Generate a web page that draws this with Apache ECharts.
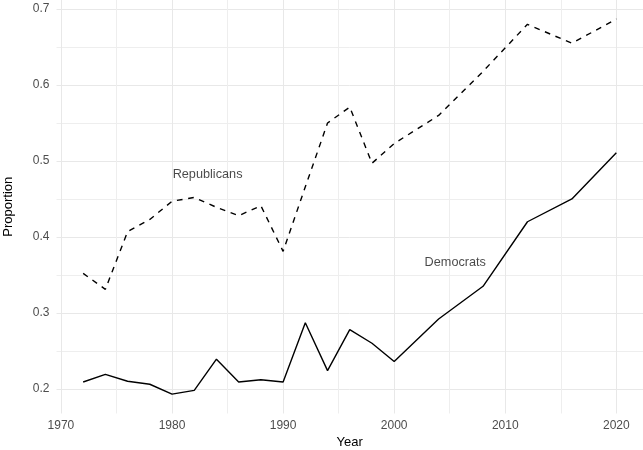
<!DOCTYPE html>
<html>
<head>
<meta charset="utf-8">
<script src="https://cdn.jsdelivr.net/npm/echarts@6/dist/echarts.min.js"></script>
<style>html,body{margin:0;padding:0;background:#fff}#c{width:643px;height:450px}</style>
</head>
<body>
<div id="c"></div>
<script>
const years = [1972,1974,1976,1978,1980,1982,1984,1986,1988,1990,1992,1994,1996,1998,2000,2004,2008,2012,2016,2020];
const democrats = [0.209,0.219,0.210,0.206,0.193,0.198,0.239,0.209,0.212,0.209,0.287,0.224,0.278,0.260,0.236,0.292,0.335,0.420,0.450,0.511];
const republicans = [0.352,0.331,0.407,0.423,0.447,0.452,0.439,0.428,0.441,0.381,0.466,0.550,0.571,0.497,0.523,0.560,0.618,0.680,0.655,0.687];
const xMajorTicks = [1970,1980,1990,2000,2010,2020];
const xMinorTicks = [1975,1985,1995,2005,2015];
const yMajorTicks = [0.2,0.3,0.4,0.5,0.6,0.7];
const yMinorTicks = [0.25,0.35,0.45,0.55,0.65];
const labelNames = ['Republicans','Democrats'];
const labelX = [1983.2,2005.5];
const labelY = [0.482,0.367];

const font = 'Liberation Sans, Arial, Helvetica, sans-serif';
const X_MIN = 1969.6, X_MAX = 2022.4, Y_MIN = 0.1675, Y_MAX = 0.712;

function baseX(extra){
  return Object.assign({type:'value', min:X_MIN, max:X_MAX, axisLine:{show:false}}, extra);
}
function baseY(extra){
  return Object.assign({type:'value', min:Y_MIN, max:Y_MAX, axisLine:{show:false}}, extra);
}

const chart = echarts.init(document.getElementById('c'), null, {renderer:'canvas'});
chart.setOption({
  animation:false,
  backgroundColor:'#ffffff',
  grid:{left:56.5, right:0, top:0, bottom:36.5, containLabel:false, outerBoundsMode:'none'},
  xAxis:[
    baseX({
      name:'Year', nameLocation:'middle', nameGap:22,
      nameTextStyle:{color:'#000', fontSize:13, fontFamily:font},
      axisTick:{show:false, customValues:xMajorTicks},
      axisLabel:{color:'#4d4d4d', fontSize:12, fontFamily:font, margin:6, customValues:xMajorTicks, formatter:v=>String(v)},
      splitLine:{show:true, lineStyle:{color:'#e8e8e8', width:1}}
    }),
    baseX({
      axisTick:{show:false, customValues:xMinorTicks},
      axisLabel:{show:false, customValues:xMinorTicks},
      splitLine:{show:true, lineStyle:{color:'#eeeeee', width:1}}
    })
  ],
  yAxis:[
    baseY({
      name:'Proportion', nameLocation:'middle', nameGap:42, nameRotate:90,
      nameTextStyle:{color:'#000', fontSize:13, fontFamily:font},
      axisTick:{show:false, customValues:yMajorTicks},
      axisLabel:{color:'#4d4d4d', fontSize:12, fontFamily:font, margin:7, customValues:yMajorTicks, formatter:v=>v.toFixed(1)},
      splitLine:{show:true, lineStyle:{color:'#e8e8e8', width:1}}
    }),
    baseY({
      position:'left',
      axisTick:{show:false, customValues:yMinorTicks},
      axisLabel:{show:false, customValues:yMinorTicks},
      splitLine:{show:true, lineStyle:{color:'#eeeeee', width:1}}
    })
  ],
  series:[
    {
      type:'line', name:'Democrats', xAxisIndex:0, yAxisIndex:0,
      data: years.map((y,i)=>[y, democrats[i]]),
      symbol:'none', silent:true,
      lineStyle:{color:'#000', width:1.4, type:'solid'}
    },
    {
      type:'line', name:'Republicans', xAxisIndex:0, yAxisIndex:0,
      data: years.map((y,i)=>[y, republicans[i]]),
      symbol:'none', silent:true,
      lineStyle:{color:'#000', width:1.4, type:[5.7,5.7]}
    },
    {
      type:'scatter', xAxisIndex:0, yAxisIndex:0, symbolSize:0, silent:true,
      data: labelNames.map((n,i)=>({name:n, value:[labelX[i], labelY[i]]})),
      label:{show:true, position:'inside', formatter:p=>p.name, color:'#1a1a1a', fontSize:12.7, fontFamily:font}
    }
  ]
});
</script>
</body>
</html>
